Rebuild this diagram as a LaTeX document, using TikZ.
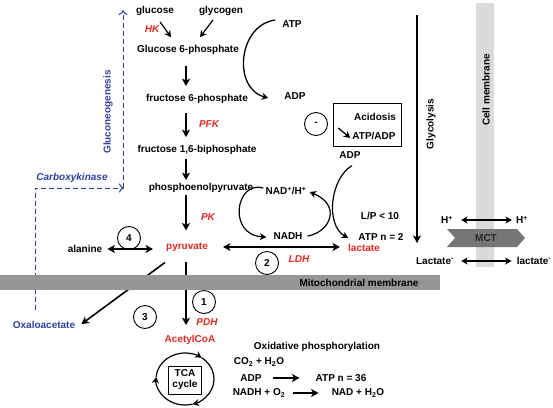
\documentclass[tikz,border=0pt]{standalone}
\usepackage{fontspec}
\setmainfont{Liberation Sans}
\usetikzlibrary{shapes,arrows.meta}
\tikzset{>={Stealth[length=7.5pt,width=8pt,inset=2pt]}}
\definecolor{enzred}{RGB}{232,40,30}
\definecolor{gngblue}{RGB}{45,65,160}
\definecolor{mitogray}{RGB}{150,150,150}
\definecolor{cellgray}{RGB}{218,218,218}
\definecolor{mctgray}{RGB}{118,118,118}
\tikzset{
  mol/.style={font=\bfseries\fontsize{10}{12}\selectfont, inner sep=1pt},
  redmol/.style={mol, text=enzred},
  enz/.style={font=\bfseries\itshape\fontsize{10}{12}\selectfont, text=enzred, inner sep=1pt},
  bluemol/.style={mol, text=gngblue},
  blueenz/.style={enz, text=gngblue},
  stepnum/.style={circle, draw, line width=0.9pt, minimum size=23, inner sep=0pt,
    font=\bfseries\fontsize{10}{12}\selectfont},
  flux/.style={->, line width=1.6pt},
  thinflux/.style={-{Stealth[length=6.5pt,width=7pt,inset=2pt]}, line width=1.2pt},
  thinboth/.style={{Stealth[length=6.5pt,width=7pt,inset=2pt]}-{Stealth[length=6.5pt,width=7pt,inset=2pt]}, line width=1.2pt},
  gng/.style={gngblue, dash pattern=on 5pt off 3pt, line width=1pt, -{To[length=5pt,width=9pt]}},
}

\begin{document}
\begin{tikzpicture}[x=1pt,y=-1pt]
  \useasboundingbox (0,0) rectangle (553,407);

  %% cell membrane and transporter
  \fill[cellgray] (476,3) rectangle (494,267);
  \node[mol, rotate=90] (cellmem) at (486,90) {Cell membrane};
  \fill[mctgray] (447,229) -- (517,229) -- (525,238) -- (517,247) -- (447,247) -- (455,238) -- cycle;
  \node[mol, text=black!85] (mct) at (486,238) {MCT};
  \node[mol] (hin) at (447,220) {H\textsuperscript{+}};
  \node[mol] (hout) at (522,220) {H\textsuperscript{+}};
  \draw[thinboth, shorten <=7pt, shorten >=3pt] (hin.east) -- (hout.west);
  \node[mol] (lacin) at (435,261) {Lactate\textsuperscript{-}};
  \node[mol] (lacout) at (534,261) {lactate\textsuperscript{-}};
  \draw[thinboth, shorten <=6pt, shorten >=4pt] (lacin.east) -- (lacout.west);

  %% glycolysis
  \coordinate (axis) at (186,0);
  \node[mol] (glucose) at (155,11) {glucose};
  \node[mol] (glycogen) at (221,11) {glycogen};
  \node[enz] (hk) at (152,29) {HK};
  \node[mol] (g6p) at (188,50) {Glucose 6-phosphate};
  \node[mol] (f6p) at (197,99) {fructose 6-phosphate};
  \node[enz] (pfk) at (209,124) {PFK};
  \node[mol] (f16bp) at (197,150) {fructose 1,6-biphosphate};
  \node[mol] (pep) at (201,188) {phosphoenolpyruvate};
  \node[enz] (pk) at (208,217) {PK};
  \node[redmol] (pyr) at (187,247) {pyruvate};

  \draw[thinflux] ([shift={(5,5)}]glucose.south) -- ([shift={(-17,-7)}]g6p.north);
  \draw[thinflux] ([shift={(-8,3)}]glycogen.south) -- ([shift={(12,-7)}]g6p.north);
  \draw[flux, shorten <=10pt, shorten >=7pt] (g6p.south -| axis) -- (f6p.north -| axis);
  \draw[flux, shorten <=8pt, shorten >=7pt] (f6p.south -| axis) -- (f16bp.north -| axis);
  \draw[flux, shorten <=3pt, shorten >=2pt] (f16bp.south -| axis) -- (pep.north -| axis);
  \draw[flux, shorten <=1pt, shorten >=11pt] (pep.south -| axis) -- (pyr.north -| axis);

  \coordinate (glyTop) at (417,15);
  \coordinate (glyEnd) at (417,243);
  \draw[flux] (glyTop) -- (glyEnd);
  \node[mol, rotate=90] (glylbl) at (431,124) {Glycolysis};

  %% ATP / ADP
  \node[mol] (atp) at (292,24) {ATP};
  \node[mol] (adp) at (295,96) {ADP};
  \draw[thinflux, line width=1.3pt] ([shift={(-6,-4)}]atp.west)
    .. controls +(-37,5) and +(-36,-10) .. ([shift={(-15,2)}]adp.west);

  \node[stepnum] (inhib) at (316,124) {-};
  \node[draw, line width=0.8pt, minimum width=68, minimum height=43, inner sep=0pt] (acidbox) at (367,125) {};
  \node[mol] (acid) at (375,117) {Acidosis};
  \node[mol] (atpadp) at (374,136) {ATP/ADP};
  \draw[thinflux, line width=1.3pt] ([shift={(-13,-8)}]atpadp.west) -- ([shift={(-1,2)}]atpadp.west);
  \node[mol] (adpb) at (350,155) {ADP};

  %% lactate branch
  \node[mol] (ala) at (85,249) {alanine};
  \node[redmol] (lac) at (364,248) {lactate};
  \node[enz] (ldh) at (299,259) {LDH};
  \node[mol] (nad) at (286,191) {NAD\textsuperscript{+}/H\textsuperscript{+}};
  \node[mol] (nadh) at (288,236) {NADH};
  \node[mol] (lp) at (380,216) {L/P < 10};
  \node[mol] (atptwo) at (381,237) {ATP n = 2};

  \draw[thinflux] ([shift={(-1,-3)}]nad.west)
    .. controls +(-28,-8) and +(-39,-2) .. ([shift={(-6,1)}]nadh.west);
  \draw[thinflux] ([shift={(4,0)}]nadh.east)
    .. controls +(23,-4) and +(32,13) .. ([shift={(2,1)}]nad.east);
  \draw[thinflux] ([shift={(2,6)}]adpb.south)
    .. controls +(-22,13) and +(-23,-13) .. ([shift={(-9,1)}]atptwo.west);

  \draw[flux, <->, shorten <=14pt, shorten >=7pt] (pyr.east) -- (pyr.east -| lac.west);
  \draw[flux, <->, shorten <=4pt, shorten >=12pt] (ala.east) -- (ala.east -| pyr.west);
  \node[stepnum] (stepfour) at (129,238) {4};
  \node[stepnum] (steptwo) at (267,263) {2};

  %% gluconeogenesis
  \node[bluemol] (oaa) at (44,325) {Oxaloacetate};
  \node[blueenz] (carb) at (72,178) {Carboxykinase};
  \node[bluemol, rotate=90] (gnglbl) at (108,112) {Gluconeogenesis};
  \coordinate (gngBot) at (35,310);
  \coordinate (gngCorner) at (35,188);
  \coordinate (gngEnd) at (124,188);
  \coordinate (gngTop) at (123,10);
  \draw[gng] (gngBot) -- (gngCorner) -- (gngEnd);
  \draw[gng] ([xshift=-1pt]gngEnd) -- (gngTop);

  %% into the mitochondrion
  \node[redmol] (acoa) at (190,340) {AcetylCoA};
  \node[enz] (pdh) at (207,322) {PDH};
  \draw[flux, shorten <=9pt, shorten >=9pt] (pyr.south -| axis) -- (acoa.north -| axis);
  \draw[flux] ([shift={(0,10)}]pyr.south west) -- ([shift={(5,4)}]oaa.north east);
  \node[stepnum] (stepone) at (204,302) {1};
  \node[stepnum] (stepthree) at (145,317) {3};

  \fill[mitogray] (0,275) rectangle (440,290);
  \node[mol] (mito) at (359,283) {Mitochondrial membrane};

  %% TCA cycle
  \coordinate (tcac) at (185,379);
  \node[mol, draw, line width=0.8pt, minimum width=33, minimum height=28, align=center,
    font=\bfseries\fontsize{10}{11}\selectfont] (tca) at (185,380) {TCA\\cycle};
  \draw[thinflux] (tcac) ++(-175:29 and 26) arc[start angle=-175, end angle=-55, x radius=29, y radius=26];
  \draw[thinflux] (tcac) ++(-55:29 and 26) arc[start angle=-55, end angle=75, x radius=29, y radius=26];
  \draw[thinflux] (tcac) ++(75:29 and 26) arc[start angle=75, end angle=185, x radius=29, y radius=26];

  %% oxidative phosphorylation
  \node[mol] (oxphos) at (317,347) {Oxidative phosphorylation};
  \node[mol] (co2) at (259,362) {CO\textsubscript{2} + H\textsubscript{2}O};
  \node[mol] (adpc) at (251,378) {ADP};
  \node[mol] (atpsix) at (341,378) {ATP n = 36};
  \node[mol] (nadhb) at (259,393) {NADH + O\textsubscript{2}};
  \node[mol] (nadb) at (358,393) {NAD + H\textsubscript{2}O};
  \draw[flux, shorten <=10pt, shorten >=15pt] (adpc.east) -- (adpc.east -| atpsix.west);
  \draw[flux, shorten <=7pt, shorten >=12pt] (nadhb.east) -- (nadhb.east -| nadb.west);
\end{tikzpicture}
\end{document}
